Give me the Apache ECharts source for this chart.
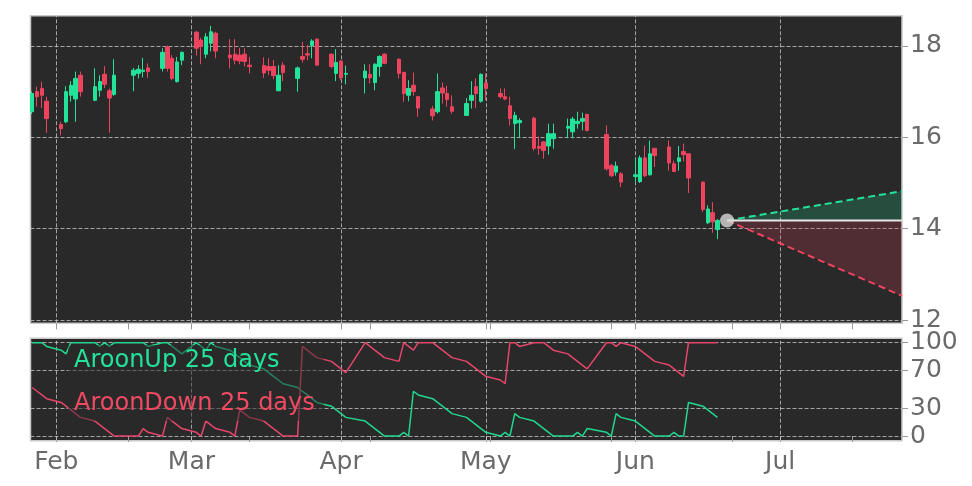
<!DOCTYPE html>
<html>
<head>
<meta charset="utf-8">
<script src="https://cdn.jsdelivr.net/npm/echarts@6/dist/echarts.min.js"></script>
<style>
    html, body { margin: 0; padding: 0; background: #ffffff; }
    #main { width: 972px; height: 486px; }
</style>
</head>
<body>
<div id="main"></div>
<script>
// trading days shown on the chart
var dates = [
    '2026-01-27', '2026-01-28', '2026-01-29', '2026-01-30',
    '2026-02-02', '2026-02-03', '2026-02-04', '2026-02-05', '2026-02-06',
    '2026-02-09', '2026-02-10', '2026-02-11', '2026-02-12', '2026-02-13',
    '2026-02-17', '2026-02-18', '2026-02-19', '2026-02-20',
    '2026-02-23', '2026-02-24', '2026-02-25', '2026-02-26', '2026-02-27',
    '2026-03-02', '2026-03-03', '2026-03-04', '2026-03-05', '2026-03-06',
    '2026-03-09', '2026-03-10', '2026-03-11', '2026-03-12', '2026-03-13',
    '2026-03-16', '2026-03-17', '2026-03-18', '2026-03-19', '2026-03-20',
    '2026-03-23', '2026-03-24', '2026-03-25', '2026-03-26', '2026-03-27',
    '2026-03-30', '2026-03-31', '2026-04-01', '2026-04-02',
    '2026-04-06', '2026-04-07', '2026-04-08', '2026-04-09', '2026-04-10',
    '2026-04-13', '2026-04-14', '2026-04-15', '2026-04-16', '2026-04-17',
    '2026-04-20', '2026-04-21', '2026-04-22', '2026-04-23', '2026-04-24',
    '2026-04-27', '2026-04-28', '2026-04-29', '2026-04-30', '2026-05-01',
    '2026-05-04', '2026-05-05', '2026-05-06', '2026-05-07', '2026-05-08',
    '2026-05-11', '2026-05-12', '2026-05-13', '2026-05-14', '2026-05-15',
    '2026-05-18', '2026-05-19', '2026-05-20', '2026-05-21', '2026-05-22',
    '2026-05-26', '2026-05-27', '2026-05-28', '2026-05-29',
    '2026-06-01', '2026-06-02', '2026-06-03', '2026-06-04', '2026-06-05',
    '2026-06-08', '2026-06-09', '2026-06-10', '2026-06-11', '2026-06-12',
    '2026-06-15', '2026-06-16', '2026-06-17', '2026-06-18'
]

var opens = [
    16.56, 17.00, 17.07, 16.79,
    16.28, 16.34, 16.92, 16.84, 17.36,
    16.81, 17.03, 17.38, 17.02, 16.94,
    17.36, 17.40, 17.44, 17.52,
    17.51, 17.98, 17.73, 17.22, 17.69,
    18.30, 18.13, 17.82, 18.06, 18.28,
    17.80, 17.82, 17.80, 17.82, 17.58,
    17.57, 17.55, 17.55, 17.02, 17.58,
    17.29, 17.77, 17.83, 18.01, 18.15,
    17.82, 17.40, 17.67, 17.38,
    17.30, 17.38, 17.20, 17.55, 17.82,
    17.71, 17.42, 16.92, 17.14, 16.89,
    16.62, 16.56, 17.08, 16.96, 16.67,
    16.48, 16.81, 17.11, 16.79, 17.19,
    16.96, 16.89, 16.69, 16.30, 16.32,
    16.42, 15.80, 15.90, 15.81, 15.97,
    16.20, 16.12, 16.30, 16.35, 16.50,
    16.06, 15.38, 15.24, 15.20,
    15.14, 15.03, 15.55, 15.18, 15.76,
    15.79, 15.42, 15.47, 15.69, 15.64,
    15.02, 14.13, 14.35, 13.98
]
var closes = [
    16.96, 16.89, 16.92, 16.41,
    16.19, 17.00, 17.14, 17.29, 17.00,
    17.11, 17.22, 17.16, 16.86, 17.36,
    17.47, 17.49, 17.47, 17.44,
    17.86, 17.51, 17.29, 17.65, 17.86,
    17.95, 17.99, 18.20, 18.31, 17.89,
    17.74, 17.69, 17.67, 17.66, 17.55,
    17.41, 17.47, 17.35, 17.36, 17.42,
    17.52, 17.71, 17.80, 18.11, 17.58,
    17.55, 17.64, 17.30, 17.40,
    17.45, 17.30, 17.60, 17.77, 17.62,
    17.40, 16.96, 17.07, 17.00, 16.64,
    16.47, 17.00, 16.97, 16.83, 16.57,
    16.74, 16.92, 16.96, 17.38, 17.07,
    16.89, 16.84, 16.41, 16.48, 16.37,
    15.76, 15.76, 15.71, 16.08, 16.08,
    16.24, 16.40, 16.35, 16.41, 16.15,
    15.31, 15.16, 15.37, 15.02,
    15.18, 15.55, 15.16, 15.64, 15.60,
    15.44, 15.25, 15.55, 15.62, 15.11,
    14.42, 14.43, 14.15, 14.18
]
var lows = [
    16.51, 16.67, 16.64, 16.10,
    16.04, 16.31, 16.78, 16.34, 16.89,
    16.79, 16.89, 17.08, 16.10, 16.91,
    17.01, 17.29, 17.31, 17.30,
    17.44, 17.44, 17.25, 17.20, 17.58,
    17.79, 17.60, 17.73, 17.88, 17.73,
    17.51, 17.60, 17.60, 17.55, 17.40,
    17.30, 17.36, 17.27, 17.01, 17.23,
    17.00, 17.64, 17.69, 17.73, 17.57,
    17.51, 17.23, 17.25, 17.16,
    16.96, 17.18, 17.03, 17.33, 17.60,
    17.29, 16.78, 16.79, 16.91, 16.45,
    16.37, 16.52, 16.74, 16.67, 16.52,
    16.47, 16.63, 16.64, 16.76, 16.81,
    16.85, 16.81, 16.26, 15.74, 15.98,
    15.71, 15.62, 15.53, 15.62, 15.75,
    15.98, 15.98, 16.19, 16.15, 16.13,
    15.27, 15.13, 15.16, 14.91,
    15.02, 15.00, 15.13, 15.16, 15.35,
    15.27, 15.24, 15.27, 15.47, 14.78,
    14.36, 14.10, 13.91, 13.77
]
var highs = [
    17.00, 17.11, 17.22, 16.89,
    16.34, 17.12, 17.23, 17.44, 17.44,
    17.51, 17.36, 17.56, 17.07, 17.71,
    17.52, 17.58, 17.74, 17.62,
    17.95, 18.01, 17.80, 17.76, 17.88,
    18.33, 18.18, 18.28, 18.44, 18.31,
    18.15, 18.15, 17.96, 17.95, 17.76,
    17.75, 17.73, 17.69, 17.58, 17.64,
    17.55, 18.09, 18.02, 18.15, 18.17,
    17.84, 17.93, 17.69, 17.57,
    17.60, 17.60, 17.62, 17.80, 17.84,
    17.73, 17.44, 17.25, 17.42, 16.91,
    16.69, 17.40, 17.20, 17.13, 16.92,
    16.86, 17.23, 17.29, 17.40, 17.40,
    17.07, 17.07, 16.89, 16.56, 16.42,
    16.45, 16.02, 15.91, 16.30, 16.30,
    16.41, 16.45, 16.56, 16.54, 16.52,
    16.26, 15.42, 15.47, 15.24,
    15.53, 15.60, 15.82, 15.93, 15.76,
    15.93, 15.49, 15.81, 15.86, 15.64,
    15.03, 14.51, 14.58, 14.21
]

var aroonUp = [
    100, 100, 100, 96,
    92, 88, 100, 100, 100,
    100, 96, 100, 96, 100,
    100, 100, 100, 96,
    100, 100, 96, 92, 88,
    100, 96, 92, 100, 96,
    92, 88, 84, 80, 76,
    72, 68, 64, 60, 56,
    52, 48, 44, 40, 36,
    32, 28, 24, 20,
    16, 12, 8, 4, 0,
    0, 4, 0, 48, 44,
    40, 36, 32, 28, 24,
    20, 16, 12, 8, 4,
    0, 4, 0, 24, 20,
    16, 12, 8, 4, 0,
    0, 0, 4, 0, 8,
    4, 0, 24, 20,
    16, 12, 8, 4, 0,
    0, 4, 0, 0, 36,
    32, 28, 24, 20
]
var aroonDown = [
    52, 48, 44, 40,
    36, 32, 28, 24, 20,
    16, 12, 8, 4, 0,
    0, 0, 8, 4,
    0, 20, 16, 12, 8,
    4, 0, 16, 12, 8,
    4, 0, 28, 24, 20,
    16, 12, 8, 4, 0,
    0, 96, 92, 88, 84,
    80, 76, 72, 68,
    100, 96, 92, 88, 84,
    80, 100, 96, 92, 100,
    100, 96, 92, 88, 84,
    80, 76, 72, 68, 64,
    60, 56, 100, 100, 96,
    100, 100, 100, 96, 92,
    88, 84, 80, 76, 72,
    100, 100, 96, 100,
    96, 92, 88, 84, 80,
    76, 72, 68, 64, 100,
    100, 100, 100, 100
]

// projection from the last close to the right edge
var projDates = ['2026-06-20', '2026-07-26 06:00']
var projBase = [14.18, 14.18]
var projUpper = [14.18, 14.82]
var projLower = [14.18, 12.53]

var xRange = ['2026-01-26 15:30', '2026-07-26 06:00']
var monthTicks = ['2026-02-01', '2026-03-01', '2026-04-01', '2026-05-01', '2026-06-01', '2026-07-01']
var monthLabels = ['Feb', 'Mar', 'Apr', 'May', 'Jun', 'Jul']
var minorTicks = ['2026-02-16', '2026-03-13', '2026-04-07', '2026-05-02', '2026-05-27', '2026-06-21', '2026-07-16']
var priceTicks = [12, 14, 16, 18]
var aroonTicks = [0, 30, 70, 100]

function toTime(s) {
    var p = s.split(/[- :T]/)
    return new Date(+p[0], +p[1] - 1, +p[2], +(p[3] || 0), +(p[4] || 0)).getTime()
}

var GREEN = '#23e39a'
var RED = '#ee435f'
var GRID_LINE = { color: 'rgba(205,205,205,0.75)', width: 1, type: [4, 2] }

var monthTimes = monthTicks.map(toTime)
var tickTimes = monthTimes.concat(minorTicks.map(toTime))
var labelOf = {}
monthTimes.forEach(function (t, i) { labelOf[t] = monthLabels[i] })

var candles = dates.map(function (d, i) {
    return [toTime(d), opens[i], closes[i], lows[i], highs[i]]
})
var upData = dates.map(function (d, i) { return [toTime(d), aroonUp[i]] })
var downData = dates.map(function (d, i) { return [toTime(d), aroonDown[i]] })
function projSeries(vals) {
    return projDates.map(function (d, i) { return [toTime(d), vals[i]] })
}

function gridMarks(yTicks) {
    var data = []
    monthTimes.forEach(function (t) { data.push({ xAxis: t }) })
    yTicks.forEach(function (v) { data.push({ yAxis: v }) })
    return {
        silent: true,
        symbol: 'none',
        z: 1,
        label: { show: false },
        lineStyle: GRID_LINE,
        emphasis: { disabled: true },
        animation: false,
        data: data
    }
}

// x is a plain value axis holding timestamps, so the tick lists can be given directly
function xAxisOf(gridIndex, withLabels) {
    return {
        type: 'value',
        gridIndex: gridIndex,
        min: toTime(xRange[0]),
        max: toTime(xRange[1]),
        scale: true,
        axisLine: { show: false },
        splitLine: { show: false },
        axisTick: {
            show: true,
            customValues: tickTimes,
            length: 6,
            lineStyle: { color: '#999999', width: 1 }
        },
        axisLabel: {
            show: withLabels,
            customValues: monthTimes,
            color: '#6a6a6a',
            fontSize: 25,
            fontFamily: 'DejaVu Sans',
            margin: 9,
            formatter: function (v) { return labelOf[v] || '' }
        }
    }
}

function yAxisOf(gridIndex, min, max, ticks) {
    return {
        type: 'value',
        gridIndex: gridIndex,
        position: 'right',
        min: min,
        max: max,
        axisLine: { show: false },
        splitLine: { show: false },
        axisTick: {
            show: true,
            customValues: ticks,
            length: 6,
            lineStyle: { color: '#999999', width: 1 }
        },
        axisLabel: {
            customValues: ticks,
            color: '#6a6a6a',
            fontSize: 25,
            fontFamily: 'DejaVu Sans',
            margin: 8
        }
    }
}

var myChart = echarts.init(document.getElementById('main'), null, { renderer: 'canvas' })

var option = {
    animation: false,
    backgroundColor: '#ffffff',
    grid: [
        { left: 30.5, top: 15.7, width: 871.5, height: 307.6, outerBoundsMode: 'none', show: true, backgroundColor: '#292929', borderColor: '#c9c9c9', borderWidth: 1.5 },
        { left: 30.5, top: 338.3, width: 871.5, height: 102.4, outerBoundsMode: 'none', show: true, backgroundColor: '#292929', borderColor: '#c9c9c9', borderWidth: 1.5 }
    ],
    xAxis: [xAxisOf(0, false), xAxisOf(1, true)],
    yAxis: [yAxisOf(0, 11.928, 18.663, priceTicks), yAxisOf(1, -5, 104.7, aroonTicks)],
    graphic: [
        {
            type: 'rect', z: 20, silent: true,
            shape: { x: 68, y: 345, width: 256, height: 76, r: 4 },
            style: { fill: 'rgba(41,41,41,0.5)' }
        },
        {
            type: 'text', z: 21, silent: true, left: 74, top: 349,
            style: { text: 'AroonUp 25 days', fill: GREEN, fontSize: 24, fontFamily: 'DejaVu Sans' }
        },
        {
            type: 'text', z: 21, silent: true, left: 74, top: 392,
            style: { text: 'AroonDown 25 days', fill: '#ef4a62', fontSize: 24, fontFamily: 'DejaVu Sans' }
        }
    ],
    series: [
        {
            name: 'grid0',
            type: 'line',
            xAxisIndex: 0, yAxisIndex: 0,
            data: [],
            markLine: gridMarks(priceTicks)
        },
        {
            name: 'grid1',
            type: 'line',
            xAxisIndex: 1, yAxisIndex: 1,
            data: [],
            markLine: gridMarks(aroonTicks)
        },
        {
            name: 'price',
            type: 'candlestick',
            xAxisIndex: 0, yAxisIndex: 0,
            z: 3,
            barWidth: 4,
            encode: { x: 0, y: [1, 2, 3, 4] },
            itemStyle: {
                color: GREEN, color0: RED,
                borderColor: GREEN, borderColor0: RED,
                borderWidth: 1
            },
            data: candles
        },
        {
            name: 'upper',
            type: 'line',
            xAxisIndex: 0, yAxisIndex: 0,
            z: 4,
            symbol: 'none',
            lineStyle: { color: GREEN, width: 2, type: [7, 4] },
            areaStyle: { origin: projBase[0], color: 'rgba(35,227,154,0.28)' },
            data: projSeries(projUpper)
        },
        {
            name: 'lower',
            type: 'line',
            xAxisIndex: 0, yAxisIndex: 0,
            z: 4,
            symbol: 'none',
            lineStyle: { color: RED, width: 2, type: [7, 4] },
            areaStyle: { origin: projBase[0], color: 'rgba(238,67,95,0.28)' },
            data: projSeries(projLower)
        },
        {
            name: 'base',
            type: 'line',
            xAxisIndex: 0, yAxisIndex: 0,
            z: 5,
            symbol: 'none',
            lineStyle: { color: '#e6e6e6', width: 2 },
            data: projSeries(projBase)
        },
        {
            name: 'last',
            type: 'scatter',
            xAxisIndex: 0, yAxisIndex: 0,
            z: 6,
            symbolSize: 14,
            itemStyle: { color: '#d7d7d7' },
            data: [[toTime(projDates[0]), projBase[0]]]
        },
        {
            name: 'AroonUp 25 days',
            type: 'line',
            xAxisIndex: 1, yAxisIndex: 1,
            z: 3,
            symbol: 'none',
            lineStyle: { color: '#22d690', width: 1.5 },
            data: upData
        },
        {
            name: 'AroonDown 25 days',
            type: 'line',
            xAxisIndex: 1, yAxisIndex: 1,
            z: 3,
            symbol: 'none',
            lineStyle: { color: '#e6466b', width: 1.5 },
            data: downData
        }
    ]
}

myChart.setOption(option)
window.addEventListener('resize', function () {
    myChart.resize()
})
</script>
</body>
</html>
